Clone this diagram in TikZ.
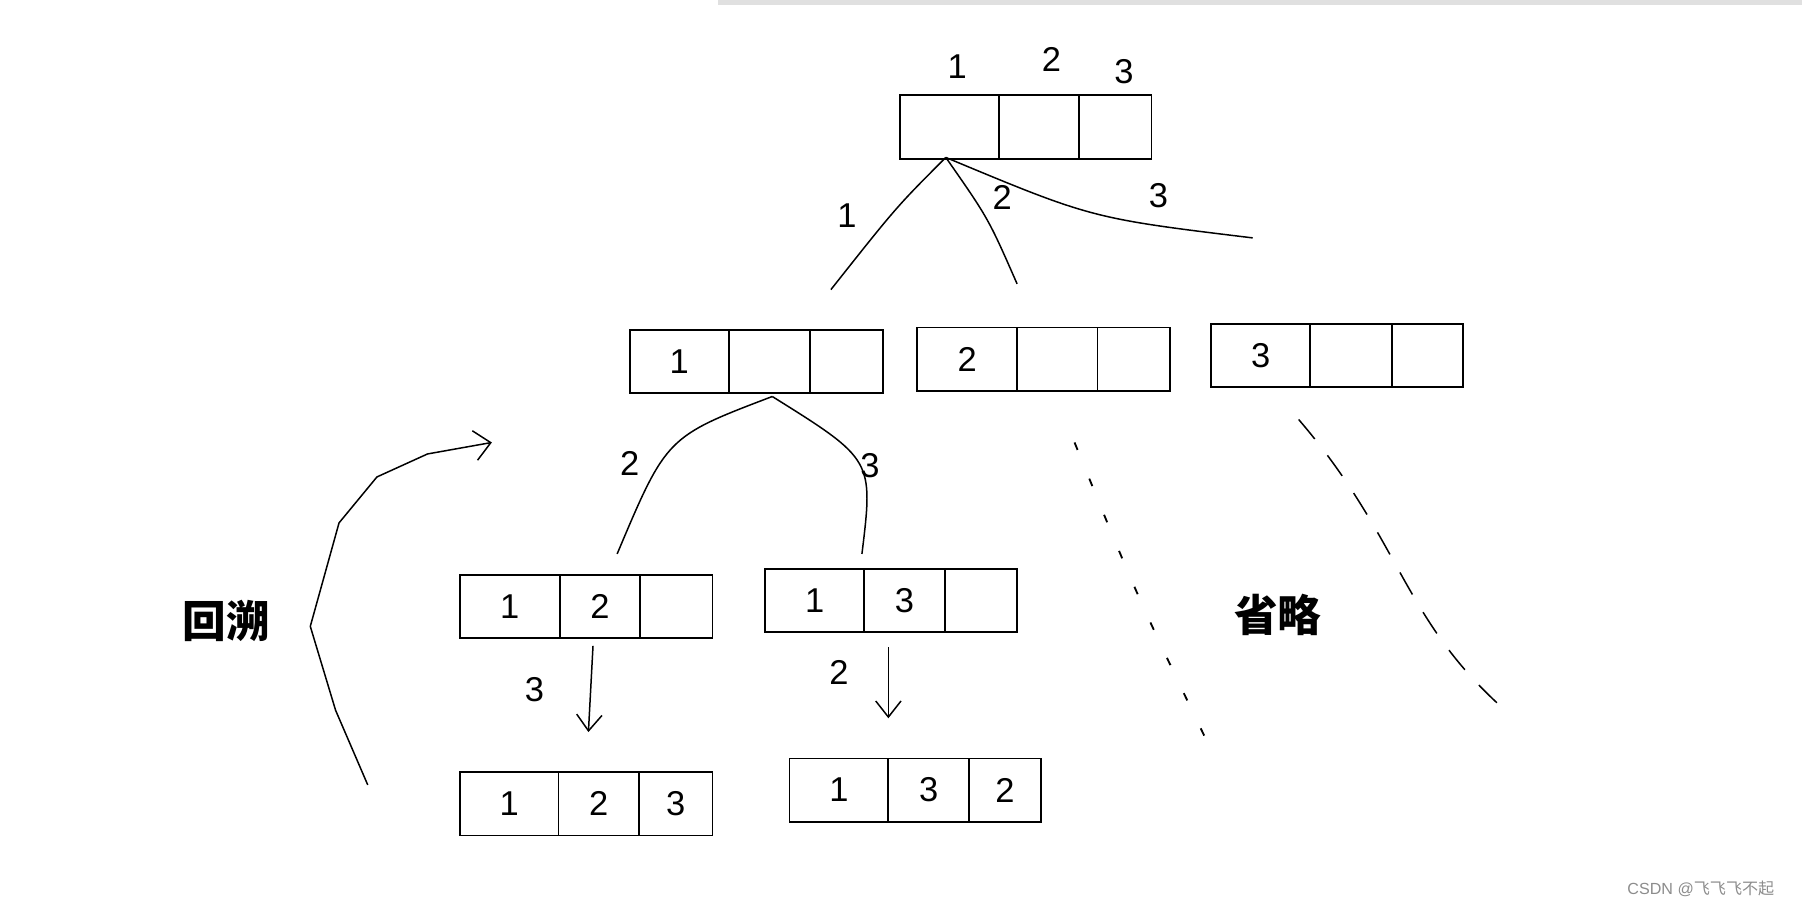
\documentclass[tikz,border=0pt]{standalone}
\usepackage{fontspec}
\setmainfont{Liberation Sans}
\newfontfamily\cjk{Noto Sans CJK SC}
\usetikzlibrary{arrows.meta}
\newcommand\tribox[9]{%
  \node[cellbox,minimum width=#4pt,anchor=north west] (#1a) at (#2,#3) {#7};
  \node[cellbox,minimum width=#5pt,anchor=north west] (#1b) at (#1a.north east) {#8};
  \node[cellbox,minimum width=#6pt,anchor=north west] (#1c) at (#1b.north east) {#9};}
\begin{document}
\begin{tikzpicture}[x=1pt,y=-1pt,
  cellbox/.style={draw,line width=1.6pt,minimum height=55pt,inner sep=0pt,outer sep=0pt,font=\fontsize{30}{30}\selectfont},
  hand/.style={line width=1.3pt},
  lbl/.style={font=\fontsize{30}{30}\selectfont,inner sep=0pt},
  cjklbl/.style={font=\cjk\bfseries\fontsize{38}{38}\selectfont,inner sep=0pt}]
\useasboundingbox (0,0) rectangle (1568,790);
\fill[black!12] (625,0) rectangle (1568,4);
\tribox{r}{783}{83}{86}{70}{63}{}{}{}
\tribox{A}{548}{287}{86}{71}{63}{1}{}{}
\tribox{B}{798}{285}{87}{70}{63}{2}{}{}
\tribox{C}{1054}{282}{86}{71}{62}{3}{}{}
\tribox{D}{400}{500}{87}{70}{63}{1}{2}{}
\tribox{E}{666}{495}{86}{70}{63}{1}{3}{}
\tribox{F}{400}{672}{86}{70}{64}{1}{2}{3}
\tribox{G}{687}{660}{86}{70}{63}{1}{3}{2}
% top labels
\node[lbl] (t1) at (833,58) {1};
\node[lbl] (t2) at (915,52) {2};
\node[lbl] (t3) at (978,62) {3};
% root edges
\coordinate (rb) at (823,137);
\coordinate (e1) at (723,252);
\coordinate (e2) at (885,247);
\coordinate (e3) at (1090,207);
\draw[hand] (rb) .. controls (780,180) .. (e1);
\draw[hand] (rb) .. controls (860,190) .. (e2);
\draw[hand] (rb) .. controls (950,190) .. (e3);
\node[lbl] (l1) at (737,188) {1};
\node[lbl] (l2) at (872,172) {2};
\node[lbl] (l3) at (1008,170) {3};
% A edges
\coordinate (ab) at (672,345);
\coordinate (d1) at (537,482);
\coordinate (d2) at (750,482);
\draw[hand] (ab) .. controls (580,380) .. (d1);
\draw[hand] (ab) .. controls (760,400) .. (d2);
\node[lbl] (l4) at (548,403) {2};
\node[lbl] (l5) at (757,405) {3};
% D->F, E->G
\coordinate (ds) at (516,562);
\coordinate (de) at (512,637);
\coordinate (es) at (773,563);
\coordinate (ee) at (773,625);
\draw[hand,-{Straight Barb[length=14pt,width=22pt]}] (ds) -- (de);
\node[lbl] (l6) at (465,600) {3};
\draw[hand,-{Straight Barb[length=14pt,width=22pt]}] (es) -- (ee);
\node[lbl] (l7) at (730,585) {2};
% dashed
\draw[line width=1.6pt,dash pattern=on 7pt off 27pt] (935,385) .. controls (990,520) .. (1055,655);
\draw[hand,dash pattern=on 22pt off 18pt] (1130,365) .. controls (1220,470) and (1220,540) .. (1312,620);
% backtrack arrow
\coordinate (bs) at (320,683);
\coordinate (be) at (428,385);
\draw[hand,-{Straight Barb[length=14pt,width=26pt]}] (bs) -- (292,618) -- (270,545) -- (295,455) -- (328,415) -- (372,395) -- (be);
\node[cjklbl] (hs) at (197,540) {回溯};
\node[cjklbl] (sl) at (1112,535) {省略};
\node[font=\fontsize{14}{14}\selectfont,text=black!45] (wm) at (1480,773) {CSDN @{\cjk 飞飞飞不起}};
\end{tikzpicture}
\end{document}
